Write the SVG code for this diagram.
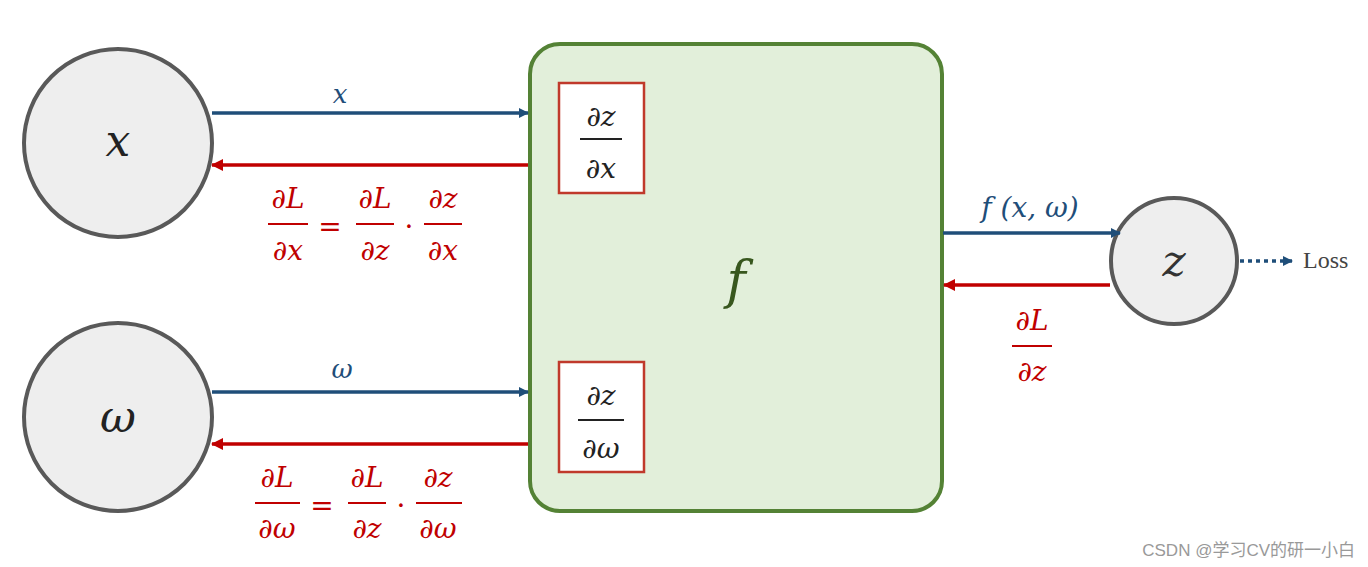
<svg xmlns="http://www.w3.org/2000/svg" width="1368" height="567" viewBox="0 0 1368 567">
<style>
.node{fill:#eeeeee;stroke:#595959;stroke-width:4}
.m{font-family:"DejaVu Serif","Liberation Serif",serif;font-style:italic}
.b{fill:#1f4e79}.r{fill:#c00000}.k{fill:#222}
.bl{stroke:#1f4e79;stroke-width:3.5;fill:none}
.rl{stroke:#c00000;stroke-width:3.5;fill:none}
.fr{stroke-width:2}
</style>
<defs>
<marker id="ab" markerWidth="10" markerHeight="10" refX="9" refY="5" orient="auto" markerUnits="userSpaceOnUse" viewBox="0 0 10 10"><path d="M0,0 L10,5 L0,10 Z" fill="#1f4e79"/></marker>
<marker id="ar" markerWidth="12" markerHeight="12" refX="11" refY="6" orient="auto" markerUnits="userSpaceOnUse" viewBox="0 0 12 12"><path d="M0,0 L12,6 L0,12 Z" fill="#c00000"/></marker>
</defs>
<rect width="1368" height="567" fill="#fff"/>
<g id="node-x"><circle class="node" cx="118" cy="143" r="94"/><text class="m k" x="118" y="156" font-size="44" text-anchor="middle" fill="#333">x</text></g>
<g id="node-w"><circle class="node" cx="118" cy="417" r="94"/><text class="m k" x="118" y="432" font-size="44" text-anchor="middle" fill="#333">ω</text></g>
<g id="node-f">
<rect x="530" y="44" width="412" height="467" rx="30" fill="#e2efda" stroke="#548235" stroke-width="4"/>
<text class="m" x="736" y="298" font-size="52" text-anchor="middle" fill="#38571e">f</text>
<rect x="559" y="83" width="85" height="110" fill="#fff" stroke="#c0392b" stroke-width="2.5"/>
<text class="m k" x="601" y="126" font-size="28" text-anchor="middle">∂z</text>
<line x1="580" y1="139" x2="622" y2="139" stroke="#222" stroke-width="2"/>
<text class="m k" x="601" y="178" font-size="28" text-anchor="middle">∂x</text>
<rect x="559" y="362" width="85" height="110" fill="#fff" stroke="#c0392b" stroke-width="2.5"/>
<text class="m k" x="601" y="405" font-size="28" text-anchor="middle">∂z</text>
<line x1="578" y1="420" x2="624" y2="420" stroke="#222" stroke-width="2"/>
<text class="m k" x="601" y="458" font-size="28" text-anchor="middle">∂ω</text>
</g>
<g id="node-z"><circle class="node" cx="1174" cy="261" r="63"/><text class="m" x="1174" y="276" font-size="44" text-anchor="middle" fill="#333">z</text></g>
<g id="connectors">
<line class="bl" x1="212" y1="113" x2="528" y2="113" marker-end="url(#ab)"/>
<line class="rl" x1="528" y1="165" x2="212" y2="165" marker-end="url(#ar)"/>
<line class="bl" x1="212" y1="392" x2="528" y2="392" marker-end="url(#ab)"/>
<line class="rl" x1="528" y1="444" x2="212" y2="444" marker-end="url(#ar)"/>
<line class="bl" x1="943" y1="233" x2="1120" y2="233" marker-end="url(#ab)"/>
<line class="rl" x1="1110" y1="285" x2="944" y2="285" marker-end="url(#ar)"/>
<line x1="1240" y1="261" x2="1292" y2="261" stroke="#1f4e79" stroke-width="3.5" stroke-dasharray="4,4" marker-end="url(#ab)"/>
</g>
<g id="labels">
<text class="m b" x="340" y="103" font-size="26" text-anchor="middle">x</text>
<text class="m b" x="342" y="378" font-size="26" text-anchor="middle">ω</text>
<text class="m b" x="1030" y="217" font-size="28" text-anchor="middle">f (x, ω)</text>
<text x="1303" y="268" font-family="Liberation Serif,serif" font-size="24" fill="#444">Loss</text>
<g class="r m" font-size="28" text-anchor="middle">
<text x="288" y="208">∂L</text><line x1="268" y1="224" x2="308" y2="224" stroke="#c00000" stroke-width="2"/><text x="288" y="260">∂x</text>
<text x="330" y="236" font-style="normal">=</text>
<text x="375" y="208">∂L</text><line x1="356" y1="224" x2="394" y2="224" stroke="#c00000" stroke-width="2"/><text x="375" y="260">∂z</text>
<text x="409" y="236" font-style="normal">·</text>
<text x="443" y="208">∂z</text><line x1="424" y1="224" x2="462" y2="224" stroke="#c00000" stroke-width="2"/><text x="443" y="260">∂x</text>

<text x="277" y="487">∂L</text><line x1="255" y1="503" x2="300" y2="503" stroke="#c00000" stroke-width="2"/><text x="277" y="538">∂ω</text>
<text x="322" y="515" font-style="normal">=</text>
<text x="367" y="487">∂L</text><line x1="348" y1="503" x2="386" y2="503" stroke="#c00000" stroke-width="2"/><text x="367" y="538">∂z</text>
<text x="401" y="515" font-style="normal">·</text>
<text x="438" y="487">∂z</text><line x1="416" y1="503" x2="462" y2="503" stroke="#c00000" stroke-width="2"/><text x="438" y="538">∂ω</text>

<text x="1032" y="330">∂L</text><line x1="1012" y1="346" x2="1052" y2="346" stroke="#c00000" stroke-width="2"/><text x="1032" y="381">∂z</text>
</g>
<text x="1355" y="556" font-family="Liberation Sans,Noto Sans CJK SC,sans-serif" font-size="17" fill="#999" text-anchor="end">CSDN @学习CV的研一小白</text>
</g>
</svg>
